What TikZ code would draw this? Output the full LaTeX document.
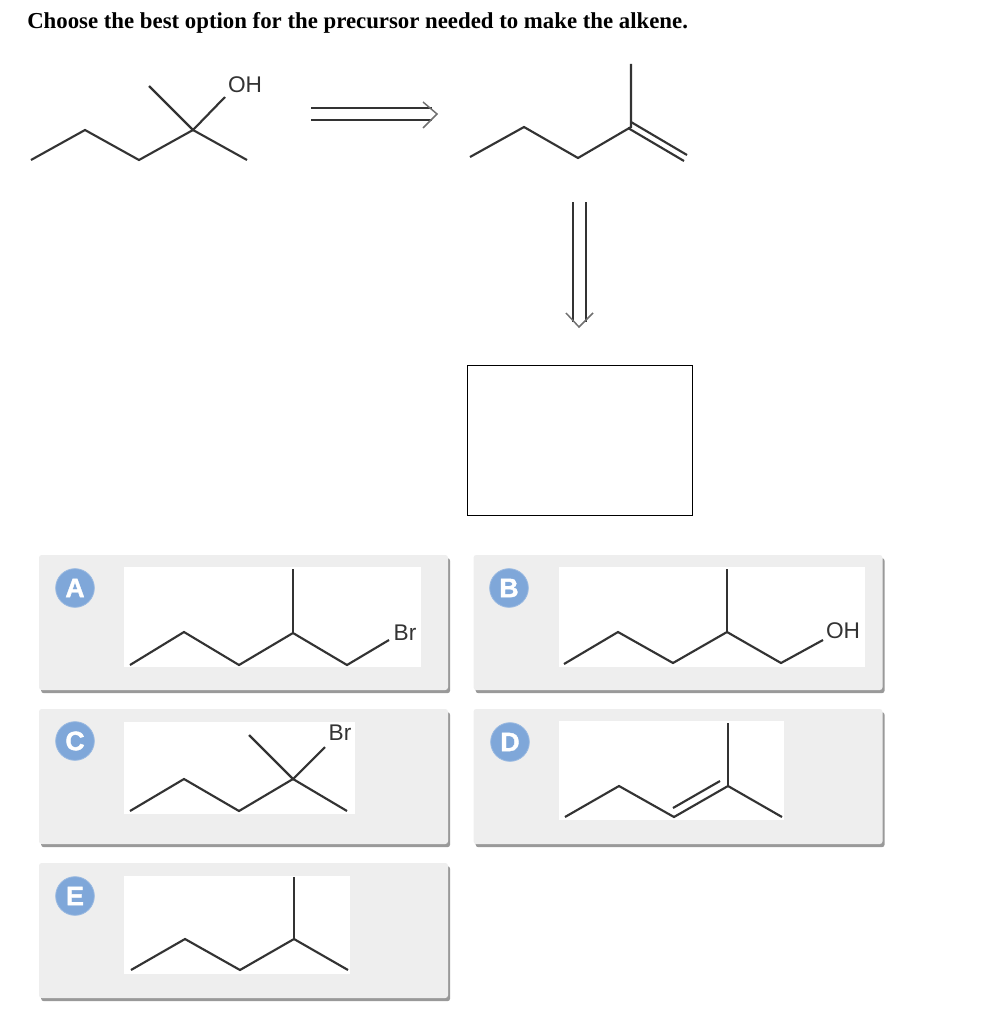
\documentclass[tikz,border=0pt]{standalone}
\usepackage{fontspec}
\setmainfont{Liberation Serif}
\setsansfont[BoldFeatures={FakeBold=1.5}]{Liberation Sans}
\usetikzlibrary{shadows,positioning}
\definecolor{panelgray}{HTML}{EEEEEE}
\definecolor{badgeblue}{HTML}{7FA7D9}
\definecolor{bondgray}{HTML}{333333}
\tikzset{
    bond/.style = {draw=bondgray, line width=1.6pt, line join=miter},
    retro/.style = {draw=bondgray, line width=1.1pt},
    tip/.style = {draw=bondgray!70, line width=1.1pt},
    panel/.style = {fill=panelgray, rounded corners=2pt, minimum width=306.75pt, minimum height=101.25pt, inner sep=0pt,
        drop shadow={shadow xshift=1.6pt, shadow yshift=-2.4pt, opacity=0.8}},
    inset/.style = {fill=white, inner sep=0pt},
    badge/.style = {circle, fill=badgeblue, draw=badgeblue!80!white, line width=0.6pt, minimum size=29pt, inner sep=0pt,
        text=white, font=\sffamily\bfseries\fontsize{20}{20}\selectfont},
    atom/.style = {inner sep=0pt, text=bondgray, font=\sffamily\fontsize{17}{17}\selectfont},
    answer/.style = {draw=black, line width=0.6pt, minimum width=168.75pt, minimum height=112.5pt, inner sep=0pt}
}
\begin{document}
\begin{tikzpicture}[x=0.75pt,y=-0.75pt]
    \useasboundingbox (0,0) rectangle (1002,1024);
    \node[anchor=base west, inner sep=0pt, font=\bfseries\fontsize{17.1}{17.1}\selectfont] (title) at (27,29) {Choose the best option for the precursor needed to make the alkene.};

    % alcohol
    \coordinate (s1) at (31,160);
    \coordinate (s2) at (85,130);
    \coordinate (s3) at (139,160);
    \coordinate (s4) at (193,130);
    \coordinate (s5) at (247,160);
    \coordinate (s6) at (149,86);
    \coordinate (s7) at (225,97);
    \node[atom] (sOH) at (245,85) {OH};
    \draw[bond] (s1) -- (s2) -- (s3) -- (s4) -- (s5);
    \draw[bond] (s6) -- (s4) -- (s7);

    % first arrow
    \coordinate (ra1) at (311,108);
    \coordinate (ra2) at (432,108);
    \coordinate (rb1) at (311,120);
    \coordinate (rb2) at (432,120);
    \coordinate (rc1) at (423,102);
    \coordinate (rc2) at (437,114);
    \coordinate (rc3) at (423,128);
    \draw[retro] (ra1) -- (ra2);
    \draw[retro] (rb1) -- (rb2);
    \draw[tip] (rc1) -- (rc2) -- (rc3);

    % alkene
    \coordinate (m1) at (470,157);
    \coordinate (m2) at (524,127);
    \coordinate (m3) at (578,158);
    \coordinate (m4) at (631,127);
    \coordinate (m5) at (631,64);
    \coordinate (m6) at (631,122);
    \coordinate (m7) at (687,155);
    \coordinate (m8) at (628,128);
    \coordinate (m9) at (684,161);
    \draw[bond] (m1) -- (m2) -- (m3) -- (m4) -- (m5);
    \draw[bond] (m6) -- (m7);
    \draw[bond] (m8) -- (m9);

    % second arrow
    \coordinate (da1) at (573,202);
    \coordinate (da2) at (573,322);
    \coordinate (db1) at (586,202);
    \coordinate (db2) at (586,322);
    \coordinate (dc1) at (566,313);
    \coordinate (dc2) at (579,327);
    \coordinate (dc3) at (593,313);
    \draw[retro] (da1) -- (da2);
    \draw[retro] (db1) -- (db2);
    \draw[tip] (dc1) -- (dc2) -- (dc3);

    \node[answer] (box) at (579.5,440) {};

    % panels
    \node[panel] (panelA) at (243.5,622.5) {};
    \node[panel] (panelB) at (678,622.5) {};
    \node[panel] (panelC) at (243.5,776.5) {};
    \node[panel] (panelD) at (678,776.5) {};
    \node[panel] (panelE) at (243.5,930.5) {};

    \node[inset, minimum width=222.75pt, minimum height=75pt] (insetA) at (272.5,617) {};
    \node[inset, minimum width=229.5pt, minimum height=75pt] (insetB) at (712,617) {};
    \node[inset, minimum width=173.25pt, minimum height=69pt] (insetC) at (239.5,768) {};
    \node[inset, minimum width=168.75pt, minimum height=74.25pt] (insetD) at (671.5,770.5) {};
    \node[inset, minimum width=169.5pt, minimum height=73.5pt] (insetE) at (237,925) {};

    \node[badge] (badgeA) at (75,588) {A};
    \node[badge] (badgeB) at (509,588) {B};
    \node[badge] (badgeC) at (75,741) {C};
    \node[badge] (badgeD) at (510,742) {D};
    \node[badge] (badgeE) at (75,896) {E};

    % option A
    \coordinate (a1) at (130,665);
    \coordinate (a2) at (184,632);
    \coordinate (a3) at (239,665);
    \coordinate (a4) at (293,633);
    \coordinate (a5) at (347,665);
    \coordinate (a6) at (389,640);
    \coordinate (a7) at (293,569);
    \node[atom] (aBr) at (405,633) {Br};
    \draw[bond] (a1) -- (a2) -- (a3) -- (a4) -- (a5) -- (a6);
    \draw[bond] (a4) -- (a7);

    % option B
    \coordinate (b1) at (564,664);
    \coordinate (b2) at (618,632);
    \coordinate (b3) at (673,663);
    \coordinate (b4) at (727,632);
    \coordinate (b5) at (781,663);
    \coordinate (b6) at (823,640);
    \coordinate (b7) at (727,569);
    \node[atom] (bOH) at (843,631) {OH};
    \draw[bond] (b1) -- (b2) -- (b3) -- (b4) -- (b5) -- (b6);
    \draw[bond] (b4) -- (b7);

    % option C
    \coordinate (c1) at (130,811);
    \coordinate (c2) at (184,779);
    \coordinate (c3) at (239,811);
    \coordinate (c4) at (293,779);
    \coordinate (c5) at (347,811);
    \coordinate (c6) at (249,735);
    \coordinate (c7) at (325,747);
    \node[atom] (cBr) at (340,733) {Br};
    \draw[bond] (c1) -- (c2) -- (c3) -- (c4) -- (c5);
    \draw[bond] (c6) -- (c4) -- (c7);

    % option D
    \coordinate (d1) at (565,817);
    \coordinate (d2) at (619,786);
    \coordinate (d3) at (674,817);
    \coordinate (d4) at (728,786);
    \coordinate (d5) at (782,817);
    \coordinate (d6) at (728,723);
    \coordinate (d7) at (673,808);
    \coordinate (d8) at (720,781);
    \draw[bond] (d1) -- (d2) -- (d3) -- (d4) -- (d5);
    \draw[bond] (d4) -- (d6);
    \draw[bond] (d7) -- (d8);

    % option E
    \coordinate (e1) at (131,970);
    \coordinate (e2) at (185,939);
    \coordinate (e3) at (240,970);
    \coordinate (e4) at (294,939);
    \coordinate (e5) at (348,970);
    \coordinate (e6) at (294,877);
    \draw[bond] (e1) -- (e2) -- (e3) -- (e4) -- (e5);
    \draw[bond] (e4) -- (e6);
\end{tikzpicture}
\end{document}
